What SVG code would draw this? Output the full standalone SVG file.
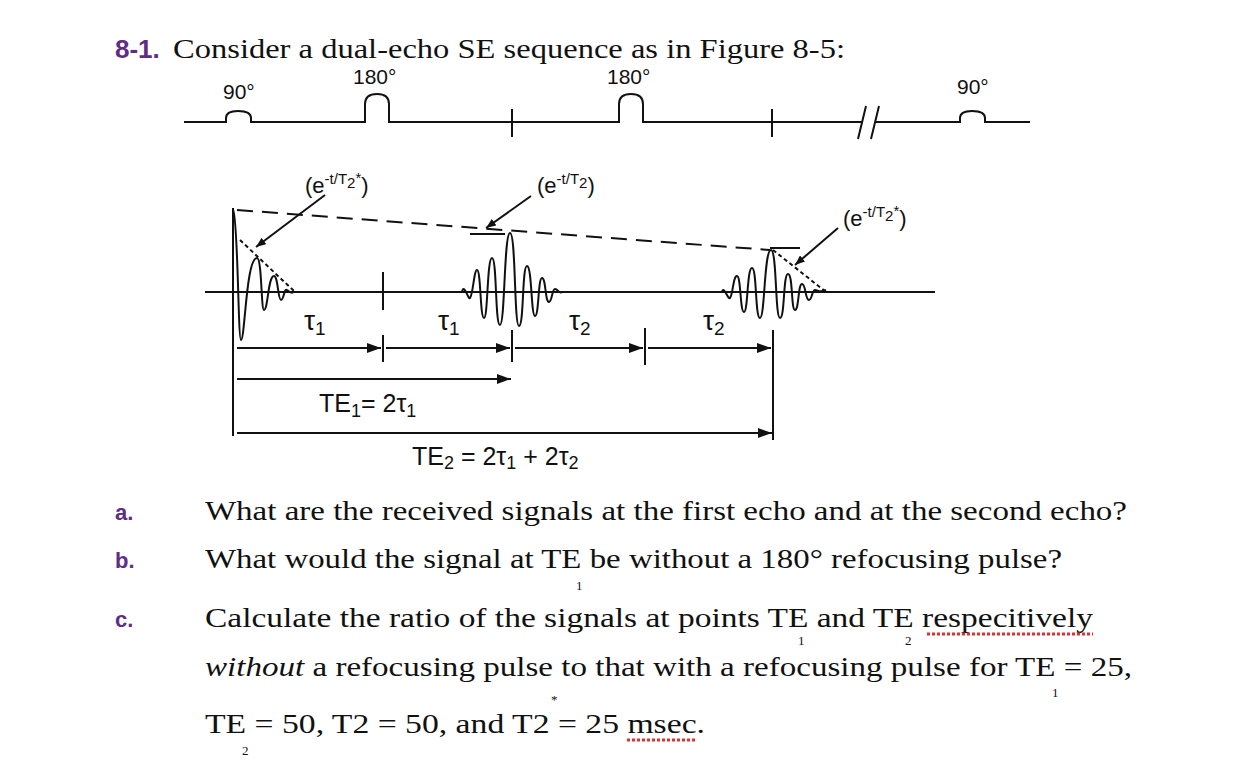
<svg xmlns="http://www.w3.org/2000/svg" width="1240" height="766" viewBox="0 0 1240 766">
<defs>
<style>
.s{font-family:"Liberation Serif",serif;font-size:28px;fill:#111}
.sm{font-family:"Liberation Serif",serif;font-size:13px;fill:#111}
.h{font-family:"Liberation Sans",Arial,sans-serif;fill:#111}
.p{font-family:"Liberation Sans",Arial,sans-serif;font-weight:bold;fill:#5f2d86}
.ln{fill:none;stroke:#111;stroke-width:2}
.red{stroke:#e03030;stroke-width:3;stroke-dasharray:3 2}
</style>
<marker id="ah" markerWidth="10" markerHeight="8" refX="10" refY="4" orient="auto" markerUnits="userSpaceOnUse" viewBox="0 0 10 8"><path d="M0,0L10,4L0,8z" fill="#111"/></marker>
<marker id="ah2" markerWidth="14" markerHeight="10" refX="14" refY="5" orient="auto" markerUnits="userSpaceOnUse" viewBox="0 0 14 10"><path d="M0,0L14,5L0,10z" fill="#111"/></marker>
</defs>
<rect width="1240" height="766" fill="#fff"/>
<text x="115" y="58" class="p" font-size="26">8-1.</text>
<text x="173" y="58" class="s" textLength="672" lengthAdjust="spacingAndGlyphs">Consider a dual-echo SE sequence as in Figure 8-5:</text>

<g id="pulses">
<path class="ln" d="M184,122H226V118Q226,111 238,111Q251,111 251,118V122H365V104Q365,94 377,94Q389,94 389,104V122H619V104Q619,94 631,94Q643,94 643,104V122H862M876,122H960V118Q960,111 972,111Q985,111 985,118V122H1030"/>
<path class="ln" d="M512,109V137M772,109V137M858,139L866,106M871,139L879,106"/>
<text x="223" y="99" class="h" font-size="21">90°</text>
<text x="353" y="84" class="h" font-size="21">180°</text>
<text x="607" y="84" class="h" font-size="21">180°</text>
<text x="957" y="94" class="h" font-size="21">90°</text>
</g>

<g id="signal">
<path class="ln" d="M205,292H935"/>
<path class="ln" d="M233,208V436"/>
<path class="ln" stroke-width="1.8" d="M233,210C238,215 238,340 241,340C245,340 246,258 257,258C262,258 261,310 264,310C268,310 268,276 274,276C278,276 278,300 281,300C284,300 284,288 287,290C290,292 291,294 294,292"/>
<path class="ln" stroke-width="1.8" d="M462,292C464,282 468,300 470,298C473,295 474,270 477,270C481,270 480,318 484,318C488,318 487,258 492,258C497,258 495,325 500,325C505,325 504,233 510,233C516,233 514,326 519,326C524,326 522,266 527,266C532,266 531,316 535,316C539,316 538,278 542,278C546,278 545,302 549,302C552,302 552,289 555,289C558,289 559,294 562,292"/>
<path class="ln" stroke-width="1.8" d="M722,292C724,285 728,300 730,298C733,295 733,276 737,276C741,276 740,312 744,312C748,312 747,268 752,268C757,268 755,318 760,318C765,318 764,250 771,250C777,250 775,318 780,318C785,318 783,274 788,274C793,274 791,310 795,310C799,310 798,284 802,284C806,284 805,300 809,300C812,300 812,290 815,290C818,290 820,293 826,290"/>
<path class="ln" stroke-width="1.8" stroke-dasharray="16 9" d="M237,210L770,250"/>
<path class="ln" stroke-width="1.5" d="M770,248H800M470,234H505"/>
<path class="ln" stroke-width="1.4" stroke-dasharray="4 3" d="M240,240L295,292M773,250L826,292"/>
<path class="ln" d="M325,195L256,247" marker-end="url(#ah)"/>
<path class="ln" d="M531,196L486,228" marker-end="url(#ah)"/>
<path class="ln" d="M838,228L795,265" marker-end="url(#ah)"/>
<text x="305" y="193" class="h" font-size="22">(e<tspan font-size="15" dy="-9">-t/T</tspan><tspan font-size="15" dy="4">2</tspan><tspan font-size="15" dy="-5">*</tspan><tspan dy="10">)</tspan></text>
<text x="537" y="193" class="h" font-size="22">(e<tspan font-size="15" dy="-9">-t/T</tspan><tspan font-size="15" dy="4">2</tspan><tspan dy="5">)</tspan></text>
<text x="843" y="226" class="h" font-size="22">(e<tspan font-size="15" dy="-9">-t/T</tspan><tspan font-size="15" dy="4">2</tspan><tspan font-size="15" dy="-5">*</tspan><tspan dy="10">)</tspan></text>
<path class="ln" d="M383,272V310M383,335V362M512,330V362M645,328V365M773,330V440"/>
<path class="ln" d="M237,348H381" marker-end="url(#ah2)"/>
<path class="ln" d="M386,348H510" marker-end="url(#ah2)"/>
<path class="ln" d="M515,348H643" marker-end="url(#ah2)"/>
<path class="ln" d="M648,348H771" marker-end="url(#ah2)"/>
<path class="ln" d="M237,379H511" marker-end="url(#ah2)"/>
<path class="ln" d="M237,433H772" marker-end="url(#ah2)"/>
<text x="304" y="330" class="h" font-size="28">τ<tspan font-size="19" dy="5">1</tspan></text>
<text x="438" y="330" class="h" font-size="28">τ<tspan font-size="19" dy="5">1</tspan></text>
<text x="569" y="330" class="h" font-size="28">τ<tspan font-size="19" dy="5">2</tspan></text>
<text x="703" y="330" class="h" font-size="28">τ<tspan font-size="19" dy="5">2</tspan></text>
<text x="319" y="412" class="h" font-size="25">TE<tspan font-size="18" dy="5">1</tspan><tspan dy="-5">= 2τ</tspan><tspan font-size="18" dy="5">1</tspan></text>
<text x="412" y="465" class="h" font-size="25">TE<tspan font-size="18" dy="4">2</tspan><tspan dy="-4"> = 2τ</tspan><tspan font-size="18" dy="4">1</tspan><tspan dy="-4"> + 2τ</tspan><tspan font-size="18" dy="4">2</tspan></text>
</g>

<g id="questions">
<text x="115" y="520" class="p" font-size="22">a.</text>
<text x="205" y="520" class="s" textLength="922" lengthAdjust="spacingAndGlyphs">What are the received signals at the first echo and at the second echo?</text>
<text x="115" y="568" class="p" font-size="22">b.</text>
<text x="205" y="568" class="s" textLength="857" lengthAdjust="spacingAndGlyphs">What would the signal at TE   be without a 180° refocusing pulse?</text>
<text x="576" y="590" class="sm">1</text>
<text x="115" y="627" class="p" font-size="22">c.</text>
<text x="205" y="627" class="s" textLength="888" lengthAdjust="spacingAndGlyphs">Calculate the ratio of the signals at points TE   and TE   respecitively</text>
<text x="798" y="645" class="sm">1</text>
<text x="905" y="645" class="sm">2</text>
<line x1="927" y1="634" x2="1093" y2="634" class="red"/>
<text x="205" y="676" class="s" textLength="927" lengthAdjust="spacingAndGlyphs"><tspan font-style="italic">without</tspan> a refocusing pulse to that with a refocusing pulse for TE   = 25,</text>
<text x="1052" y="697" class="sm">1</text>
<text x="205" y="733" class="s" textLength="500" lengthAdjust="spacingAndGlyphs">TE   = 50, T2 = 50, and T2    = 25 msec.</text>
<text x="242" y="755" class="sm">2</text>
<text x="551" y="704" class="sm" font-size="10">*</text>
<line x1="627" y1="740" x2="697" y2="740" class="red"/>
</g>
</svg>
